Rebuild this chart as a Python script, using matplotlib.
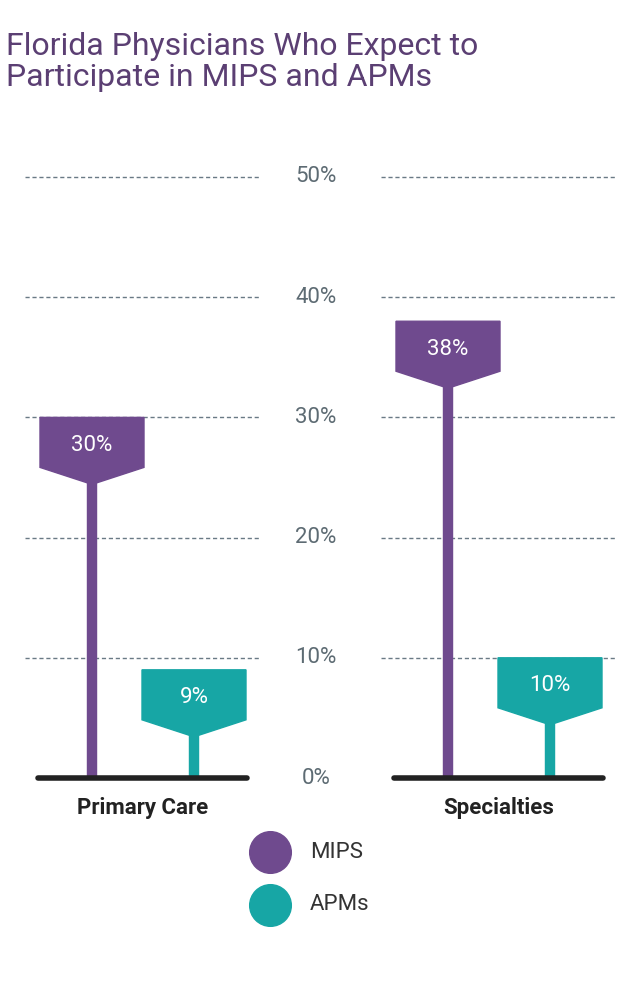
import matplotlib
matplotlib.use("Agg")
import matplotlib.pyplot as plt
from matplotlib.patches import Polygon, Circle

groups = ["Primary Care", "Specialties"]
series = ["MIPS", "APMs"]
mips = [30, 38]
apms = [9, 10]
ticks = [0, 10, 20, 30, 40, 50]
colors = {"MIPS": "#6f4a8e", "APMs": "#17a6a5"}

plt.rcParams['font.family'] = ['Roboto', 'DejaVu Sans']
fig = plt.figure(figsize=(6.4, 10.02), dpi=100)
ax = fig.add_axes([0, 0, 1, 1])
ax.set_xlim(0, 640)
ppu = 120.2 / 10  # pixels per percent
ax.set_ylim(-224 / ppu, 778 / ppu)
ax.axis("off")

centers = [143, 499]
off = 51
for c in centers:
    for t in ticks[1:]:
        ax.plot([c - 118, c + 117], [t, t], ls=(0, (3, 2)), color="#6a7a85", lw=1, zorder=1)
for t in ticks:
    ax.text(316, t, f"{t}%", ha="center", va="center", fontsize=16, color="#5d6b73")

hw = 52 / 1  # half width pixels
rect_h = 50 / ppu
tip = 17 / ppu
for gi, c in enumerate(centers):
    for si, (name, vals) in enumerate(zip(series, [mips, apms])):
        v = vals[gi]
        x = c + (-off if si == 0 else off)
        col = colors[name]
        ax.plot([x, x], [0, v], color=col, lw=7.5, solid_capstyle="butt", zorder=2)
        poly = Polygon([(x - hw, v), (x + hw, v), (x + hw, v - rect_h),
                        (x, v - rect_h - tip), (x - hw, v - rect_h)],
                       closed=True, color=col, zorder=3)
        ax.add_patch(poly)
        ax.text(x, v - 28 / ppu, f"{v}%", ha="center", va="center",
                color="white", fontsize=16, zorder=4)
    ax.plot([c - 105, c + 104], [0, 0], color="#222222", lw=4, solid_capstyle="round", zorder=5)
    ax.text(c, -30 / ppu, groups[gi], ha="center", va="center", fontsize=16,
            fontweight="bold", color="#222222")

for i, name in enumerate(series):
    y = -(74 + 53 * i) / ppu
    ax.scatter([270], [y], s=900, color=colors[name], zorder=3)
    ax.text(310, y, name, ha="left", va="center", fontsize=16, color="#333333")

fig.text(6 / 640, 1 - 62 / 1002, "Florida Physicians Who Expect to\nParticipate in MIPS and APMs",
         ha="left", va="center", fontsize=23, color="#5b3f73", linespacing=1.1)

fig.savefig("out.png", dpi=100)
